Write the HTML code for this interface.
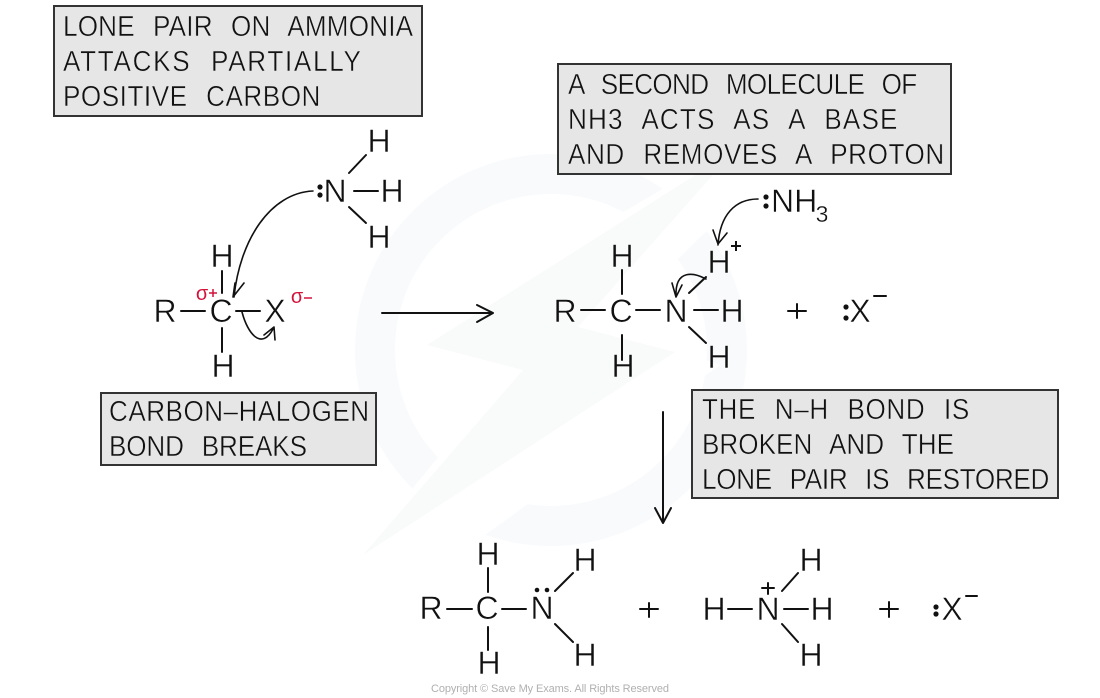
<!DOCTYPE html>
<html><head><meta charset="utf-8"><style>
html,body{margin:0;padding:0;background:#fff;width:1100px;height:698px;overflow:hidden}
svg{display:block}
text{font-family:"Liberation Sans",sans-serif;fill:#111}
.a{font-size:32px;text-anchor:middle;stroke:#fff;stroke-width:.45}
.b{font-size:29px;word-spacing:12px;stroke:#e6e6e6;stroke-width:.45}
.l{stroke:#111;stroke-width:2;fill:none;stroke-linecap:round;stroke-linejoin:round}
.t{stroke:#111;stroke-width:1.6;fill:none;stroke-linecap:round;stroke-linejoin:round}
.box{fill:#e6e6e6;stroke:#333;stroke-width:2}
</style></head><body>
<svg width="1100" height="698" viewBox="0 0 1100 698" xmlns="http://www.w3.org/2000/svg">
<rect width="1100" height="698" fill="#fff"/>
<circle cx="551" cy="350" r="176" fill="none" stroke="#f8fafc" stroke-width="40"/>
<polygon points="770,125 400,345 505,375 330,590 430,575 720,365 610,325 790,150" fill="#fff"/>
<polygon points="735,150 427,345 523,370 363,555 675,352 578,327" fill="#f9fafa"/>

<rect class="box" x="54" y="6" width="368" height="110"/>
<text class="b" transform="translate(63,36) scale(.9,1)" textLength="389">LONE PAIR ON AMMONIA</text>
<text class="b" transform="translate(63,71) scale(.9,1)" textLength="331">ATTACKS PARTIALLY</text>
<text class="b" transform="translate(63,106) scale(.9,1)" textLength="286">POSITIVE CARBON</text>

<rect class="box" x="558" y="64" width="393" height="110"/>
<text class="b" transform="translate(568,94) scale(.9,1)" textLength="388">A SECOND MOLECULE OF</text>
<text class="b" transform="translate(568,129) scale(.9,1)" textLength="366">NH3 ACTS AS A BASE</text>
<text class="b" transform="translate(568,164) scale(.9,1)" textLength="418">AND REMOVES A PROTON</text>

<rect class="box" x="101" y="393" width="275" height="72"/>
<text class="b" transform="translate(109,421) scale(.9,1)" textLength="289">CARBON–HALOGEN</text>
<text class="b" transform="translate(109,456) scale(.9,1)" textLength="220">BOND BREAKS</text>

<rect class="box" x="692" y="390" width="366" height="108"/>
<text class="b" transform="translate(702,419) scale(.9,1)" textLength="297">THE N–H BOND IS</text>
<text class="b" transform="translate(702,454) scale(.9,1)" textLength="280">BROKEN AND THE</text>
<text class="b" transform="translate(702,489) scale(.9,1)" textLength="386">LONE PAIR IS RESTORED</text>

<!-- NH3 attacking -->
<text class="a" x="335" y="202">N</text>
<circle cx="320" cy="187" r="2.6" fill="#111"/><circle cx="320" cy="195" r="2.6" fill="#111"/>
<text class="a" x="379" y="152">H</text><text class="a" x="392" y="202">H</text><text class="a" x="379" y="248">H</text>
<path class="l" d="M366,155L349,173M354,191H378M349,207L366,223"/>
<path class="t" d="M313,191C270,193 240,240 234,297M235,283L233,297L244,283"/>

<!-- Left molecule -->
<text class="a" x="222" y="267">H</text><text class="a" x="221" y="322">C</text><text class="a" x="165" y="322">R</text>
<text class="a" x="275" y="322">X</text><text class="a" x="223" y="377">H</text>
<path class="l" d="M222,271V293M181,311H205M236,311H260M222,328V352"/>
<path class="t" d="M242,312C248,335 262,350 273,329M264,335L274,327L275,340"/>
<text x="202" y="300" style="font-size:20px;fill:#d4123c;text-anchor:middle">σ</text>
<path d="M209,293H217M213,289V297" stroke="#d4123c" stroke-width="1.5" fill="none"/>
<text x="297" y="303" style="font-size:20px;fill:#d4123c;text-anchor:middle">σ</text>
<path d="M304,298H312" stroke="#d4123c" stroke-width="1.5" fill="none"/>

<!-- Horizontal arrow -->
<path class="l" d="M382,313H493M477,305L493,313L477,322"/>

<!-- Middle molecule -->
<text class="a" x="622" y="267">H</text><text class="a" x="621" y="322">C</text><text class="a" x="565" y="322">R</text>
<text class="a" x="676" y="322">N</text><text class="a" x="732" y="322">H</text><text class="a" x="719" y="368">H</text>
<text class="a" x="623" y="377">H</text><text class="a" x="719" y="273">H</text>
<path class="l" d="M622,270V294M581,310H605M636,310H660M694,310H718M689,327L706,343M622,335V360M689,293L706,277"/>
<path d="M731,246H741M736,241V251" stroke="#111" stroke-width="2" fill="none"/>
<path class="t" d="M758,199C735,199 720,215 718,245M713,230L718,244L727,233"/>
<circle cx="766" cy="197" r="2.6" fill="#111"/><circle cx="766" cy="206" r="2.6" fill="#111"/>
<text x="771" y="212" style="font-size:32px;stroke:#fff;stroke-width:.45">NH</text>
<text x="822" y="222" style="font-size:23px;text-anchor:middle;stroke:#fff;stroke-width:.3">3</text>
<path class="t" d="M706,279C695,273 675,268 676,296M672,283L676,297L682,285"/>
<path class="l" d="M788,311H806M797,304V318"/>
<circle cx="846" cy="307" r="2.6" fill="#111"/><circle cx="846" cy="318" r="2.6" fill="#111"/>
<text class="a" x="860" y="322">X</text>
<path class="l" d="M874,296H886"/>

<!-- Vertical arrow -->
<path class="l" d="M663,412V523M655,508L663,523L671,508"/>

<!-- Bottom -->
<text class="a" x="431" y="619">R</text><text class="a" x="487" y="619">C</text><text class="a" x="542" y="619">N</text>
<text class="a" x="488" y="565">H</text><text class="a" x="489" y="674">H</text><text class="a" x="585" y="571">H</text><text class="a" x="585" y="666">H</text>
<circle cx="537" cy="590" r="2.3" fill="#111"/><circle cx="547" cy="590" r="2.3" fill="#111"/>
<path class="l" d="M447,609H472M502,609H526M488,568V592M488,627V650M555,591L573,573M555,624L573,642"/>
<path class="l" d="M640,609H658M649,603V617"/>
<text class="a" x="714" y="620">H</text><text class="a" x="768" y="620">N</text><text class="a" x="822" y="620">H</text>
<text class="a" x="811" y="571">H</text><text class="a" x="811" y="666">H</text>
<path class="l" d="M728,609H752M784,609H808M782,591L798,573M782,624L798,642M762,588H774M768,583V594"/>
<path class="l" d="M880,609H898M889,602V617"/>
<circle cx="936" cy="607" r="2.6" fill="#111"/><circle cx="936" cy="614" r="2.6" fill="#111"/>
<text class="a" x="952" y="620">X</text>
<path class="l" d="M966,596H977"/>

<text x="431" y="692" textLength="238" style="font-size:11px;fill:#b0b0b0">Copyright © Save My Exams. All Rights Reserved</text>
</svg>
</body></html>
